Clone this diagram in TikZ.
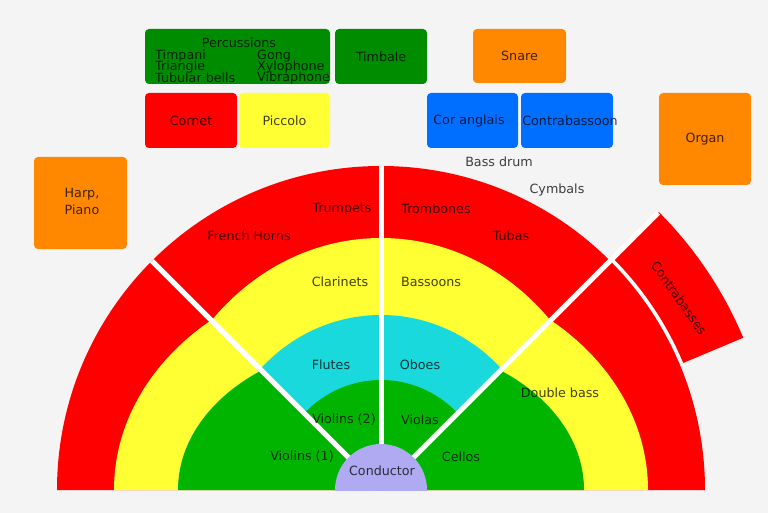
\documentclass[tikz,border=0pt]{standalone}
\usepackage{fontspec}
\setmainfont{DejaVu Sans}
\definecolor{bg}{HTML}{F4F4F4}
\definecolor{cred}{HTML}{FF0000}
\definecolor{cyel}{HTML}{FFFF33}
\definecolor{ccyan}{HTML}{19D9DC}
\definecolor{cgreen}{HTML}{00B400}
\definecolor{pgreen}{HTML}{008C00}
\definecolor{cblue}{HTML}{006EFF}
\definecolor{corange}{HTML}{FF8800}
\definecolor{clav}{HTML}{B0AAF2}
\begin{document}
\begin{tikzpicture}[x=1pt,y=-1pt,
  lbl/.style={font=\fontsize{12.7pt}{11pt}\selectfont, text=black, text opacity=0.75, inner sep=0pt},
  boxstyle/.style={rounded corners=4pt, inner sep=0pt},
  sep/.style={draw=white, line width=5pt}]
\fill[bg] (0,0) rectangle (768,513);
\useasboundingbox (0,0) rectangle (768,513);
\coordinate (O) at (381,490);

% ---- rings ----
\begin{scope}
\clip (0,0) rectangle (768,490);
\begin{scope}
\clip (O) -- (-200,490) -- (-200,-91) -- cycle;
\fill[cred] (O) circle[radius=324];
\fill[cyel] (O) ellipse[x radius=267, y radius=220];
\fill[cgreen] (O) ellipse[x radius=203, y radius=148];
\end{scope}
\begin{scope}
\clip (O) -- (962,490) -- (962,-91) -- cycle;
\fill[cred] (O) circle[radius=324];
\fill[cyel] (O) ellipse[x radius=267, y radius=220];
\fill[cgreen] (O) ellipse[x radius=203, y radius=148];
\end{scope}
\begin{scope}
\clip (O) -- (-200,-91) -- (962,-91) -- cycle;
\fill[cred] (O) circle[radius=324];
\fill[cyel] (O) ellipse[x radius=229, y radius=252];
\fill[ccyan] (O) ellipse[x radius=167, y radius=175];
\fill[cgreen] (O) ellipse[x radius=107, y radius=110];
\end{scope}
\end{scope}

% ---- extra wedge ----
\begin{scope}[shift={(O)}]
\fill[cred] (-45:324) arc[start angle=-45, end angle=-22.8, radius=324]
  -- (-22.8:393) arc[start angle=-22.8, end angle=-45, radius=393] -- cycle;
\draw[white, line width=3.5pt] (-45:326) arc[start angle=-45, end angle=-22.8, radius=326];
\coordinate (e135) at (-135:324);
\coordinate (e90) at (-90:324);
\coordinate (e45) at (-45:392);
\end{scope}

% ---- separators ----
\draw[sep] (O) -- (e135);
\draw[sep] (O) -- (e90);
\draw[sep] (O) -- (e45);

% ---- conductor ----
\begin{scope}
\clip (0,0) rectangle (768,490);
\fill[clav] (O) circle[radius=46];
\end{scope}

% ---- ring labels ----
\node[lbl] (cond) at (382,471) {Conductor};
\node[lbl] (vio1) at (302,457) {Violins (1)};
\node[lbl] (vio2) at (344,420) {Violins (2)};
\node[lbl] (viola) at (420,420) {Violas};
\node[lbl] (cello) at (461,457) {Cellos};
\node[lbl] (flute) at (331,365) {Flutes};
\node[lbl] (oboe) at (420,365) {Oboes};
\node[lbl] (clar) at (340,282) {Clarinets};
\node[lbl] (bsn) at (431,282) {Bassoons};
\node[lbl] (tpt) at (342,209) {Trumpets};
\node[lbl] (tbn) at (436,209) {Trombones};
\node[lbl] (horn) at (249,236) {French Horns};
\node[lbl] (tuba) at (511,236) {Tubas};
\node[lbl] (dbass) at (560,393) {Double bass};
\node[lbl, rotate=-55] (cbass) at (679,298) {Contrabasses};
\node[lbl] (bdrum) at (499,162) {Bass drum};
\node[lbl] (cymb) at (557,190) {Cymbals};

% ---- boxes ----
\node[boxstyle, fill=pgreen, minimum width=185pt, minimum height=55pt] (perc) at (237.5,56.5) {};
\node[lbl] (perct) at (239,43) {Percussions};
\node[lbl, anchor=west] (timp) at (155,56) {Timpani};
\node[lbl, anchor=west] (tri) at (155,67) {Triangle};
\node[lbl, anchor=west] (tub) at (155,78) {Tubular bells};
\node[lbl, anchor=west] (gong) at (257,56) {Gong};
\node[lbl, anchor=west] (xylo) at (257,67) {Xylophone};
\node[lbl, anchor=west] (vibr) at (257,78) {Vibraphone};

\node[boxstyle, fill=pgreen, minimum width=92pt, minimum height=55pt] (timb) at (381,56.5) {};
\node[lbl] at (timb) {Timbale};
\node[boxstyle, fill=corange, minimum width=93pt, minimum height=54pt] (snare) at (519.5,56) {};
\node[lbl] at (snare) {Snare};
\node[boxstyle, fill=cred, minimum width=92pt, minimum height=55pt] (cornet) at (191,120.5) {};
\node[lbl] at (cornet) {Cornet};
\node[boxstyle, fill=cyel, minimum width=91pt, minimum height=55pt] (picc) at (284.5,120.5) {};
\node[lbl] at (picc) {Piccolo};
\node[boxstyle, fill=cblue, minimum width=91pt, minimum height=55pt] (cora) at (472.5,120.5) {};
\node[lbl] at (469,120.5) {Cor anglais};
\node[boxstyle, fill=cblue, minimum width=92pt, minimum height=55pt] (cbsn) at (567,120.5) {};
\node[lbl] at (570,120.5) {Contrabassoon};
\node[boxstyle, fill=corange, minimum width=92pt, minimum height=92pt] (organ) at (705,139) {};
\node[lbl] at (organ) {Organ};
\node[boxstyle, fill=corange, minimum width=93pt, minimum height=92pt] (harp) at (80.5,203) {};
\node[lbl, align=center, font=\fontsize{12.7pt}{17pt}\selectfont] at (82,201.5) {Harp,\\Piano};
\end{tikzpicture}
\end{document}
